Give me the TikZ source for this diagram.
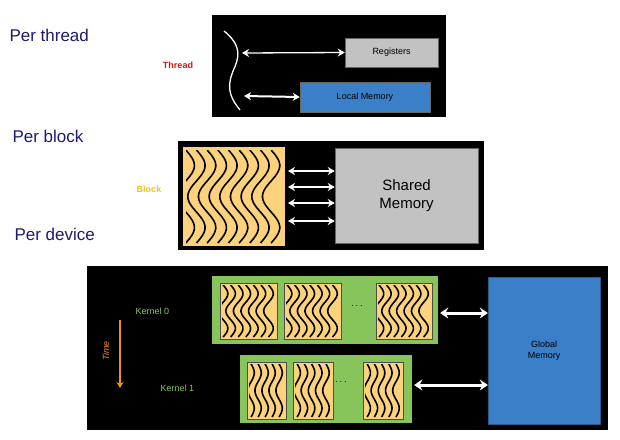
\documentclass[tikz,border=0pt]{standalone}
\usepackage{fontspec}
\setmainfont{Liberation Sans}
\usetikzlibrary{arrows.meta}
\begin{document}
\definecolor{navy}{HTML}{1C1C6B}
\definecolor{bluebox}{HTML}{3A80C8}
\definecolor{graybox}{HTML}{C2C2C2}
\definecolor{yel}{HTML}{FCD27C}
\definecolor{grn}{HTML}{88C45C}
\definecolor{thr}{HTML}{D01818}
\definecolor{blk}{HTML}{F2C21C}
\definecolor{kern}{HTML}{88C45C}
\definecolor{orng}{HTML}{F0901C}
\newcommand{\mywaves}[5]{%
  \begin{scope}
    \clip (#1,#2) rectangle (#3,#4);
    \pgfmathsetmacro{\wx}{(#3)-(#1)}
    \pgfmathsetmacro{\wy}{(#4)-(#2)}
    \pgfmathsetmacro{\wyo}{#2}
    \foreach \i in {1,...,#5}{
      \pgfmathsetmacro{\xo}{(#1)+\wx*(\i-0.3)/#5-\wx*0.08}
      \draw[line width=1.6pt,black] plot[domain=0:1,samples=40,variable=\t,smooth]
        ({\xo+\wx*0.09*sin(\t*540)},{\wyo+\t*\wy});
    }
  \end{scope}}
\begin{tikzpicture}[x=1pt,y=-1pt,
  lab/.style={font=\fontsize{17}{17}\selectfont,text=navy,anchor=west},
  arr/.style={white,line width=2pt,<->,>={Stealth[length=7pt,width=8pt]}},
  box/.style={draw=black!60,line width=0.5pt}]
\useasboundingbox[fill=white] (0,0) rectangle (620,439);
% thread
\node[lab] (pt) at (6,35) {Per thread};
\fill[black] (212,15) rectangle (446,117);
\node[font=\bfseries\small,text=thr] (th) at (178,65) {Thread};
\draw[white,line width=1.3pt] (224,31) .. controls (248,50) and (234,66) .. (232,74) .. controls (226,90) and (232,100) .. (240,110);
\node[box,fill=graybox,minimum width=93pt,minimum height=29pt,inner sep=0pt,font=\small] (reg) at (391.5,52.5) {Registers};
\node[box,fill=bluebox,minimum width=130pt,minimum height=30pt,inner sep=0pt,font=\small] (lm) at (365,97) {Local Memory};
\coordinate (ra) at (242,53);
\coordinate (la) at (244,96);
\draw[arr,line width=1.3pt] (ra) -- (reg.west);
\draw[arr] (la) -- (lm.west);
% block
\node[lab] (pb) at (9,136) {Per block};
\fill[black] (178,141) rectangle (484,250);
\node[font=\bfseries\small,text=blk] (bl) at (149,189) {Block};
\fill[yel] (183,147) rectangle (285,246);
\mywaves{186}{150}{282}{243}{9}
\node[box,fill=graybox,minimum width=143pt,minimum height=95pt,inner sep=0pt,align=center,font=\fontsize{15}{18}\selectfont] (sm) at (406.5,195.5) {Shared\\Memory};
\foreach \yy in {171,187,203,221}{
  \coordinate (bs\yy) at (288,\yy);
  \draw[arr] (bs\yy) -- (sm.west|-bs\yy);
}
% device
\node[lab] (pd) at (11,234) {Per device};
\fill[black] (87,266) rectangle (608,430);
\node[fill=grn,minimum width=226pt,minimum height=68pt,inner sep=0pt] (k0) at (325,310) {};
\foreach \a/\b in {220/277,284/341,376/432}{
  \fill[yel] (\a,283) rectangle (\b,339);
  \mywaves{\a+2}{285}{\b-2}{337}{7}
  \draw[black!70,line width=0.6pt] (\a,283) rectangle (\b,339);
}
\node[font=\bfseries] (d0) at (357,306) {$\cdots$};
\node[fill=grn,minimum width=172pt,minimum height=68pt,inner sep=0pt] (k1) at (326,389) {};
\foreach \a/\b in {247/286,293/333,363/403}{
  \fill[yel] (\a,362) rectangle (\b,419);
  \mywaves{\a+2}{364}{\b-2}{417}{5}
  \draw[black!70,line width=0.6pt] (\a,362) rectangle (\b,419);
}
\node[font=\bfseries] (d1) at (341,382) {$\cdots$};
\node[draw=bluebox!70!black,fill=bluebox,minimum width=112pt,minimum height=147pt,inner sep=0pt,align=center,font=\small] (gm) at (544,350.5) {Global\\Memory};
\draw[arr,line width=3pt,>={Stealth[length=8pt,width=11pt]}] (k0.east) ++(2,3) coordinate (ka) -- (gm.west|-ka);
\draw[arr,line width=3pt,>={Stealth[length=8pt,width=11pt]}] (k1.east) ++(2,-4) coordinate (kb) -- (gm.west|-kb);
\node[text=kern,font=\small,anchor=west] (kl0) at (132,311) {Kernel 0};
\node[text=kern,font=\small,anchor=west] (kl1) at (157,388) {Kernel 1};
\node[text=orng,font=\small\itshape,rotate=90] (tm) at (106,351) {Time};
\coordinate (t1) at (120,320);
\coordinate (t2) at (120,388);
\draw[orng,line width=1.8pt,-{Stealth[length=6pt,width=7pt]}] (t1) -- (t2);
\end{tikzpicture}
\end{document}
